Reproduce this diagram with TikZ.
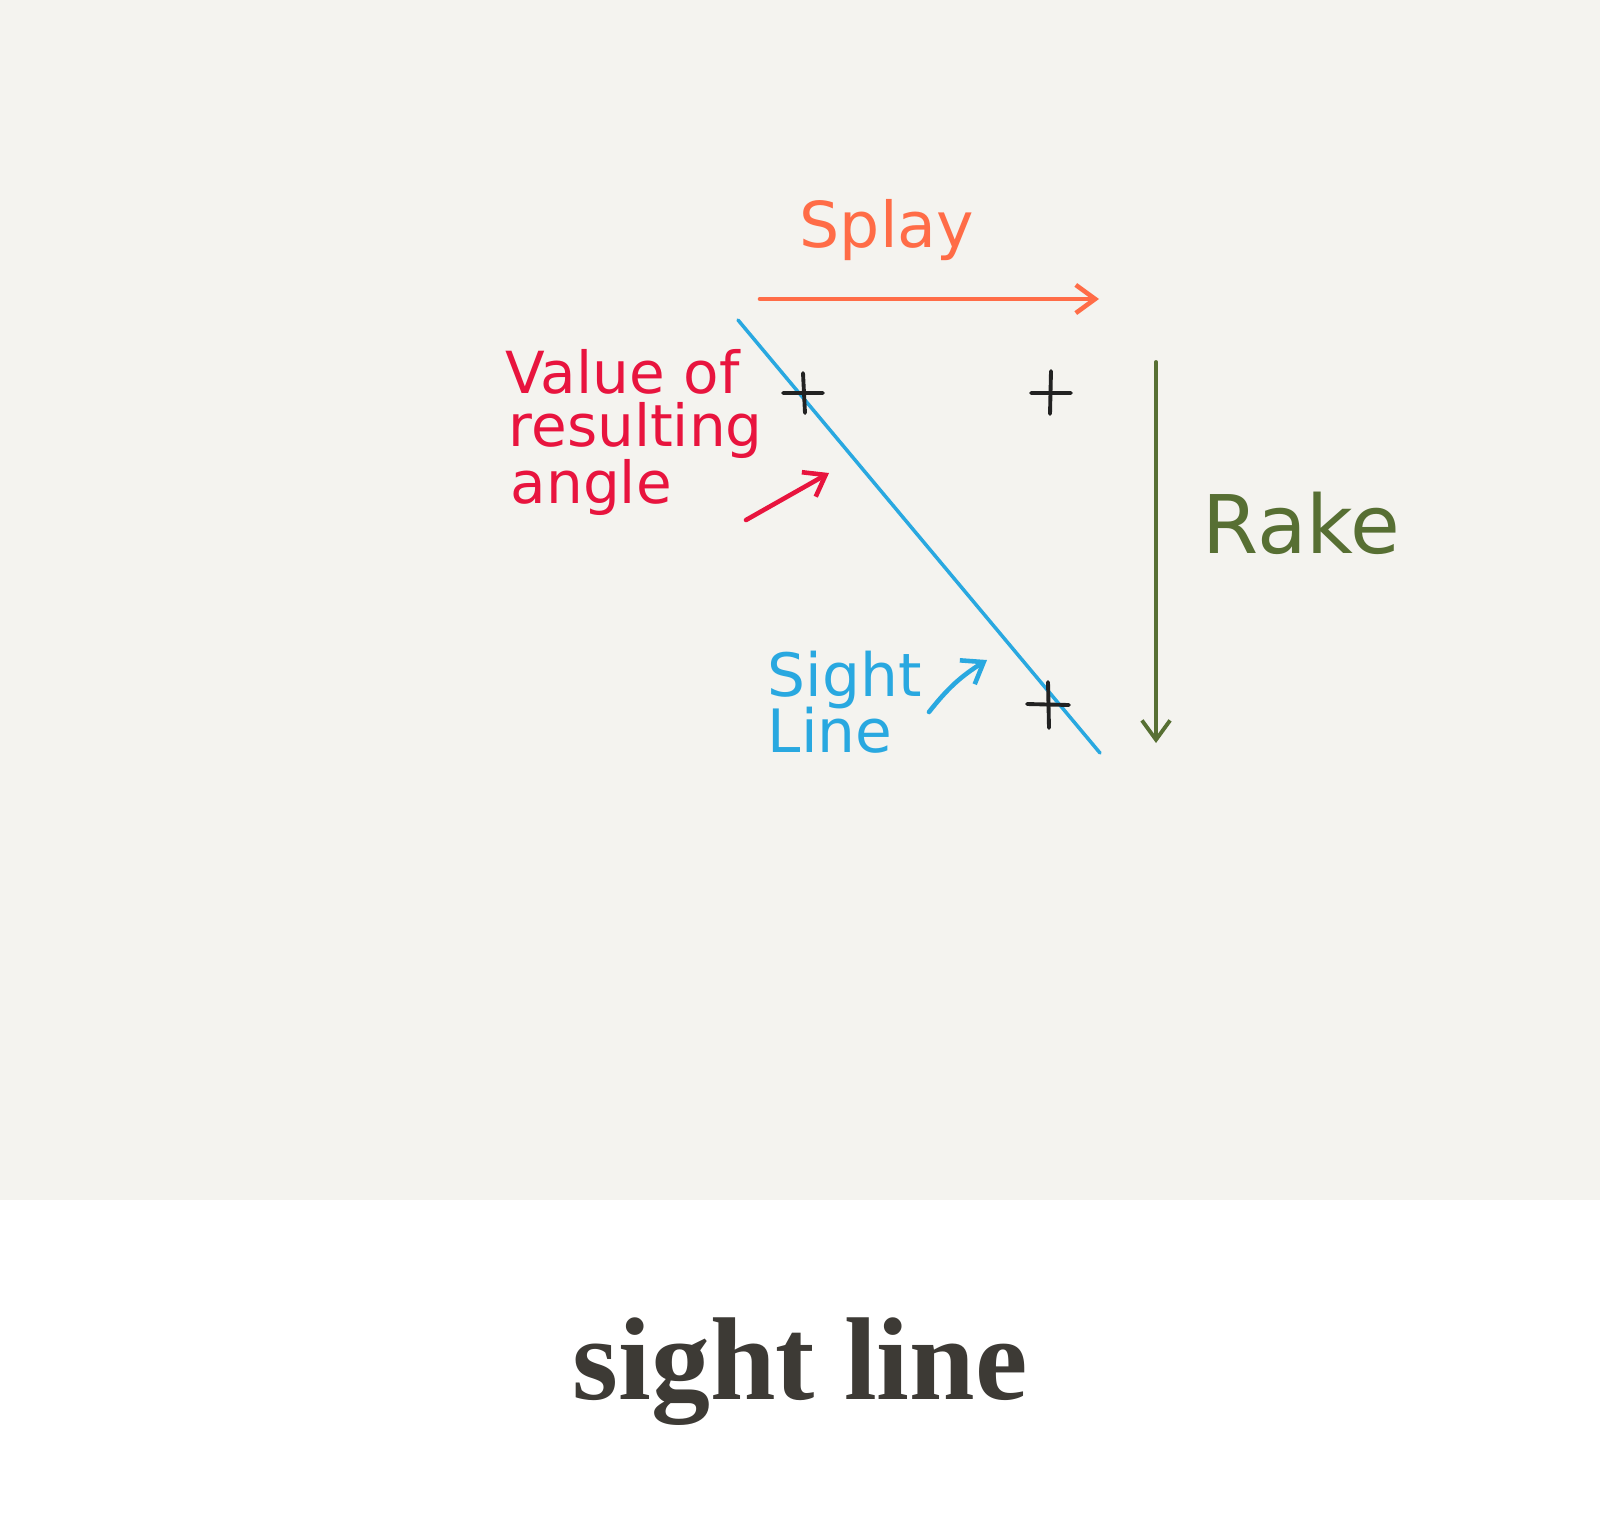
\documentclass[tikz,border=0pt]{standalone}
\usepackage{fontspec}
\setmainfont{DejaVu Sans}
\newfontfamily\titlefont{Liberation Serif}
\usetikzlibrary{arrows.meta}

\definecolor{paper}{HTML}{F4F3EF}
\definecolor{splaycol}{HTML}{FF6C47}
\definecolor{rakecol}{HTML}{576F33}
\definecolor{sightcol}{HTML}{29A8E0}
\definecolor{notecol}{HTML}{E8143E}
\definecolor{inkcol}{HTML}{222222}
\definecolor{titlecol}{HTML}{3D3A35}

\tikzset{
  hand/.style = {inner sep=0, anchor=base west},
  noteline/.style = {hand, notecol, font=\fontsize{16.5}{16.5}\selectfont, text height=0.72em, text depth=0.1em},
  plusmark/.style = {inkcol, line width=1.1pt, line cap=round},
  tip/.style = {-{Straight Barb[length=5.5pt,width=8pt]}}
}

\begin{document}
\begin{tikzpicture}[x=0.01cm, y=-0.01cm, line cap=round]
	\useasboundingbox (0,0) rectangle (1600,1536);
	\fill [white] (0,0) rectangle (1600,1536);
	\fill [paper] (0,0) rectangle (1600,1200);
	% splay
	\coordinate (splayA) at (760,299);
	\coordinate (splayB) at (1099,299);
	\draw [splaycol, line width=1.3pt, tip] (splayA) -- (splayB);
	\node [hand, splaycol, font=\fontsize{18}{18}\selectfont] (splay) at (799,247) {Splay};
	% rake
	\coordinate (rakeA) at (1156,362);
	\coordinate (rakeB) at (1156,743);
	\draw [rakecol, line width=1.1pt, tip] (rakeA) -- (rakeB);
	\node [hand, rakecol, font=\fontsize{23}{23}\selectfont] (rake) at (1202,553) {Rake};
	% sight line
	\coordinate (sightA) at (738,320);
	\coordinate (sightB) at (1100,753);
	\draw [sightcol, line width=1pt] (sightA) -- (sightB);
	% plus marks
	\draw [plusmark] (783,393) -- (823,393) (803,373) -- (805,413);
	\draw [plusmark] (1031,393) -- (1071,393) (1051,371) -- (1050,414);
	\draw [plusmark] (1027,704) -- (1069,705) (1048,682) -- (1049,728);
	% labels
	\node [noteline] (value) at (505,393) {Value of};
	\node [noteline] (resulting) at (508,446) {resulting};
	\node [noteline] (angle) at (510,503) {angle};
	\coordinate (noteA) at (746,520);
	\coordinate (noteB) at (829,473);
	\draw [notecol, line width=1.3pt, tip] (noteA) -- (noteB);
	\node [hand, sightcol, font=\fontsize{17}{17}\selectfont] (sight) at (767,696) {Sight};
	\node [hand, sightcol, font=\fontsize{17}{17}\selectfont] (line) at (767,752) {Line};
	\coordinate (lineA) at (929,712);
	\coordinate (lineB) at (987,660);
	\draw [sightcol, line width=1.3pt, tip] (lineA) to [bend left=10] (lineB);
	% title
	\node [inner sep=0, anchor=base, titlecol, font=\titlefont\bfseries\fontsize{33.5}{33.5}\selectfont] (title) at (800,1399) {sight line};
\end{tikzpicture}
\end{document}
